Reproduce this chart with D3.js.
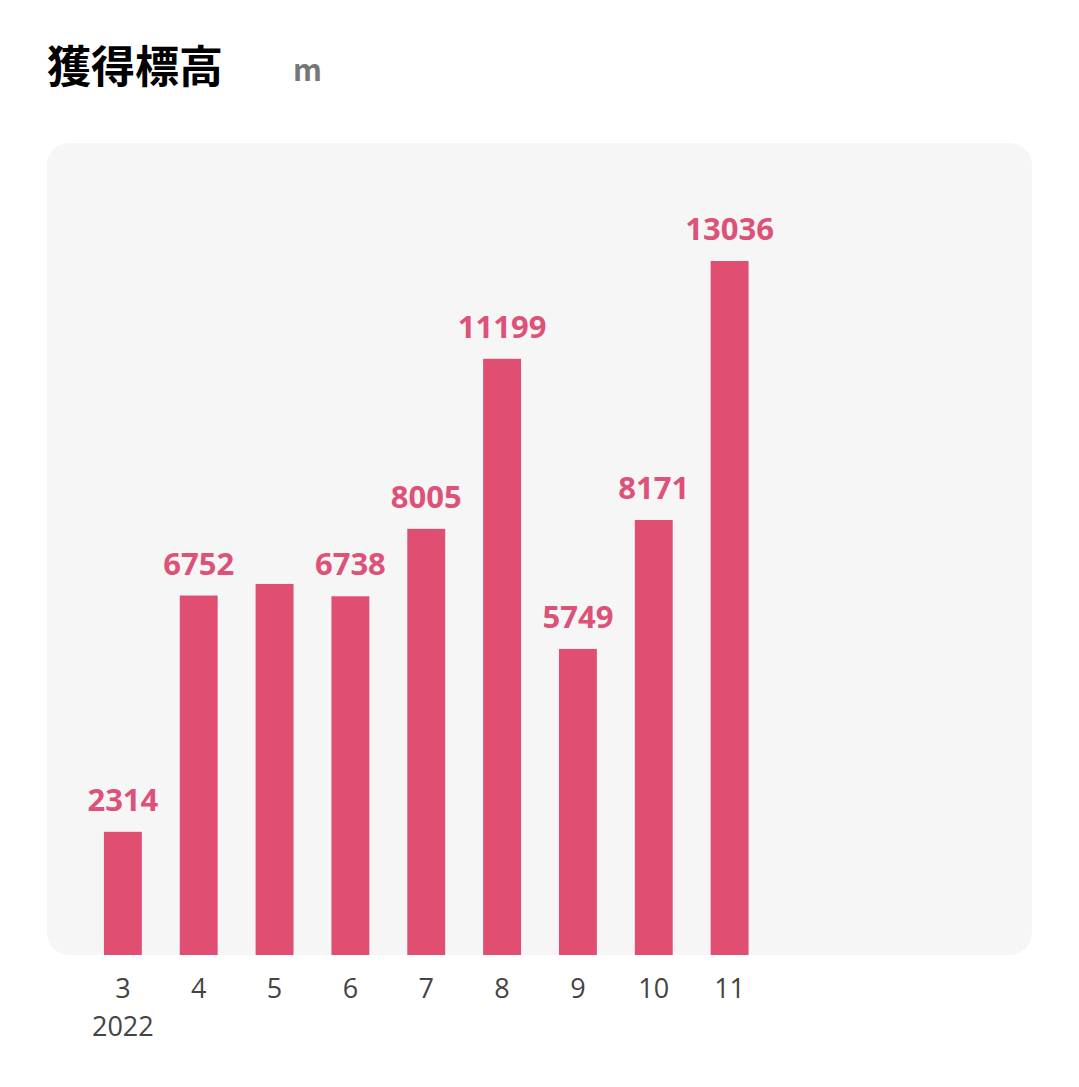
<!DOCTYPE html>
<html><head><meta charset="utf-8">
<script src="https://cdn.jsdelivr.net/npm/d3@7"></script>
<style>body{margin:0;background:#fff;font-family:"Noto Sans CJK JP","Noto Sans",sans-serif;}</style>
</head><body>
<script>
var months = ["3", "4", "5", "6", "7", "8", "9", "10", "11"];
var values = [2314, 6752, 6970, 6738, 8005, 11199, 5749, 8171, 13036];
var showLabel = [true, true, false, true, true, true, true, true, true];
var slots = 12;

var width = 1079, height = 1087;
var svg = d3.select("body").append("svg").attr("width", width).attr("height", height);

svg.append("text").attr("x", 47).attr("y", 83)
    .style("font-size", "44px").style("font-weight", "bold").attr("fill", "#000").text("獲得標高");
svg.append("text").attr("x", 293).attr("y", 81)
    .style("font-size", "30px").style("font-weight", "bold").attr("fill", "#777").text("m");

svg.append("rect").attr("x", 47).attr("y", 143).attr("width", 985).attr("height", 812)
    .attr("rx", 22).attr("fill", "#f7f6f7");

var x = d3.scaleBand().domain(d3.range(slots)).range([66, 1014]).padding(0.5);
var y = d3.scaleLinear().domain([0, 13036]).range([955, 261]);

svg.selectAll(".bar").data(values).enter().append("rect")
    .attr("x", function (d, i) { return x(i); })
    .attr("width", x.bandwidth())
    .attr("y", function (d) { return y(d); })
    .attr("height", function (d) { return 955 - y(d); })
    .attr("fill", "#e04f72");

svg.selectAll(".lbl").data(values).enter().append("text")
    .filter(function (d, i) { return showLabel[i]; })
    .attr("x", function (d) { var i = values.indexOf(d); return x(i) + x.bandwidth() / 2; })
    .attr("y", function (d) { return y(d) - 21; })
    .attr("text-anchor", "middle")
    .style("font-family", "'Open Sans',sans-serif")
    .style("font-size", "31px").style("font-weight", "bold").attr("fill", "#dc5278")
    .text(function (d) { return d; });

svg.selectAll(".tick").data(months).enter().append("text")
    .attr("x", function (d, i) { return x(i) + x.bandwidth() / 2; })
    .attr("y", 998).attr("text-anchor", "middle")
    .style("font-family", "'Open Sans',sans-serif")
    .style("font-size", "27px").attr("fill", "#444").text(function (d) { return d; });

svg.append("text").attr("x", x(0) + x.bandwidth() / 2).attr("y", 1036).attr("text-anchor", "middle")
    .style("font-family", "'Open Sans',sans-serif")
    .style("font-size", "27px").attr("fill", "#444").text("2022");
</script>
</body></html>
